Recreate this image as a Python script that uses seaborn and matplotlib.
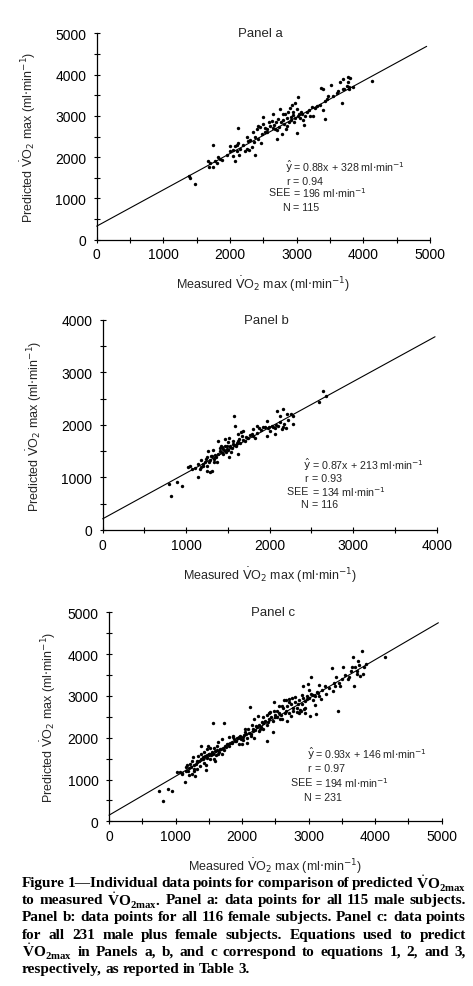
import matplotlib
matplotlib.use("Agg")
import matplotlib.pyplot as plt
import seaborn as sns
import numpy as np
import pandas as pd
from matplotlib.ticker import MultipleLocator

# ---------------- data ----------------
a_measured = [1390, 1400, 1475, 1675, 1685, 1740, 1750, 1800, 1825, 1850, 1875, 2000, 2050, 2075,
              2075, 2110, 2125, 2125, 2140, 2250, 2250, 2275, 2290, 2325, 2350, 2360, 2375, 2400,
              2425, 2450, 2465, 2490, 2500, 2525, 2550, 2600, 2625, 2650, 2675, 2690, 2700, 2725,
              2740, 2750, 2775, 2790, 2810, 2840, 2860, 2875, 2900, 2915, 2930, 2950, 2960, 2975,
              3000, 3010, 3025, 3040, 3065, 3090, 3110, 3150, 3200, 3225, 3250, 3350, 3360, 3390,
              3390, 3425, 3475, 3515, 3550, 3650, 3675, 3700, 3715, 3750, 3765, 3775, 3790, 3800,
              3840, 4135,
              1950, 2000, 2050, 2150, 2200, 2220, 2300, 2380, 2420, 2480, 2520, 2560, 2580, 2640,
              2660, 2700, 2760, 2800, 2820, 2850, 2880, 2920, 2940, 2980, 3020, 3050, 3080, 3120,
              3180, 3280, 3300, 3420, 3450, 3600, 3620, 3700, 3780, 1700, 1780, 2100]
a_predicted = [1540, 1500, 1350, 1900, 1750, 2300, 1750, 1870, 2000, 1950, 1940, 2280, 2035, 1915,
               2280, 2160, 2700, 2340, 2050, 2500, 2200, 2400, 2180, 2240, 2620, 2360, 2060, 2680,
               2760, 2720, 2340, 2965, 2800, 2600, 2680, 2760, 2880, 3045, 2680, 2840, 2440, 2925,
               2720, 3170, 2560, 3045, 2800, 2680, 2760, 3090, 3180, 2965, 3265, 3020, 2860, 3310,
               3170, 2580, 3450, 3045, 3100, 2900, 2780, 3090, 2990, 3210, 2990, 3265, 3670, 3650,
               3150, 2925, 3490, 3750, 3490, 3830, 3310, 3900, 3640, 3730, 3940, 3830, 3640, 3910,
               3690, 3845,
               2050, 2150, 2180, 2200, 2300, 2150, 2420, 2500, 2450, 2550, 2700, 2620, 2850, 2700,
               2780, 2650, 2850, 2900, 3050, 2950, 2850, 2900, 3100, 2950, 3000, 2950, 3050, 3000,
               3150, 3200, 3250, 3350, 3400, 3550, 3600, 3650, 3700, 1850, 1900, 2300]

b_measured = [818, 886, 946, 790, 1018, 1046, 1066, 1146, 1166, 1178, 1206, 1226, 1246, 1254, 1266,
              1278, 1286, 1306, 1314, 1326, 1334, 1358, 1366, 1386, 1406, 1418, 1438, 1446, 1466,
              1478, 1486, 1498, 1510, 1518, 1526, 1538, 1558, 1578, 1586, 1594, 1606, 1618, 1626,
              1638, 1654, 1666, 1686, 1745, 1785, 1805, 1825, 1845, 1877, 1924, 1964, 1964, 1984,
              2004, 2024, 2064, 2068, 2092, 2104, 2124, 2144, 2164, 2172, 2196, 2204, 2276, 2284,
              2595, 2643, 2675,
              1100, 1140, 1200, 1240, 1280, 1300, 1340, 1380, 1400, 1420, 1450, 1470, 1490, 1500,
              1530, 1550, 1570, 1600, 1620, 1650, 1680, 1700, 1720, 1760, 1800, 1850, 1900, 1940,
              1990, 2040, 2080, 2120, 2160, 2220, 2260, 1560, 1430, 1330, 1250, 1180]
b_predicted = [653, 919, 843, 880, 1204, 1223, 1160, 1014, 1160, 1331, 1223, 1300, 1128, 1382, 1509,
               1287, 1110, 1414, 1128, 1528, 1287, 1382, 1287, 1699, 1509, 1604, 1445, 1540, 1731,
               1477, 1604, 1667, 1382, 1744, 1572, 1477, 1635, 2174, 1984, 1604, 1655, 1445, 1826,
               1731, 1870, 1781, 1889, 1743, 1826, 1921, 1743, 1971, 1933, 1965, 2079, 1794, 1933,
               1889, 1984, 1933, 1820, 2269, 1984, 2162, 1921, 2301, 2016, 1940, 2206, 2174, 2016,
               2440, 2650, 2555,
               1180, 1250, 1250, 1350, 1330, 1400, 1420, 1450, 1560, 1480, 1520, 1600, 1550, 1520,
               1600, 1560, 1620, 1620, 1700, 1650, 1720, 1700, 1760, 1800, 1780, 1850, 1900, 1950,
               1960, 1950, 2000, 2050, 1950, 2100, 2200, 1700, 1580, 1350, 1220, 1200]

c_measured = [757, 807, 882, 942, 1017, 1067, 1142, 1167, 1192, 1217, 1242, 1257, 1283, 1293, 1318,
              1343, 1368, 1383, 1408, 1428, 1458, 1468, 1493, 1508, 1518, 1543, 1558, 1578, 1593,
              1618, 1643, 1668, 1693, 1728, 1768, 1808, 1843, 1868, 1908, 1944, 1969, 2004, 2019,
              2044, 2069, 2094, 2119, 2129, 2159, 2179, 2209, 2244, 2269, 2294, 2319, 2369, 2394,
              2420, 2460, 2480, 2495, 2520, 2570, 2595, 2630, 2660, 2680, 2710, 2730, 2760, 2795,
              2820, 2846, 2871, 2896, 2911, 2931, 2946, 2971, 2996, 3021, 3031, 3071, 3096, 3111,
              3146, 3181, 3246, 3347, 3372, 3397, 3437, 3472, 3522, 3597, 3657, 3672, 3682, 3722,
              3747, 3772, 3797, 3812, 3862, 4148,
              1100, 1150, 1200, 1230, 1270, 1300, 1330, 1350, 1390, 1410, 1440, 1470, 1480, 1500,
              1530, 1550, 1570, 1600, 1620, 1650, 1680, 1710, 1740, 1760, 1790, 1820, 1850, 1880,
              1900, 1930, 1960, 1990, 2030, 2060, 2080, 2110, 2140, 2170, 2200, 2230, 2260, 2290,
              2320, 2350, 2380, 2410, 2440, 2470, 2500, 2530, 2560, 2590, 2620, 2650, 2680, 2700,
              2740, 2770, 2800, 2830, 2860, 2890, 2920, 2950, 2980, 3010, 3040, 3060, 3090, 3120,
              3160, 3200, 3260, 3300, 3380, 3410, 3450, 3500, 3550, 3600, 3640, 3700, 3730, 3760,
              3830, 1250, 1380, 1520, 1640, 1580, 1460, 1320, 1200, 2020, 2150, 2400, 2550, 2700,
              2850, 3000, 1700, 1860, 2250, 2600, 2750, 3150, 2900, 2480, 2320, 2050, 1950, 1730,
              1610, 1430, 1280, 1160, 1090, 2950, 2660, 2370, 2180, 1800]
c_predicted = [734, 494, 773, 734, 1172, 1172, 949, 1348, 1212, 1372, 1132, 1531, 1252, 1093, 1451,
               1571, 1332, 1810, 1531, 1651, 1228, 1730, 1810, 1611, 1491, 1651, 2344, 1746, 1451,
               1810, 1611, 1730, 1970, 2352, 1850, 2009, 1874, 2049, 1930, 1986, 2049, 1850, 2009,
               2129, 1874, 2209, 2727, 2049, 2169, 2448, 2289, 2528, 2209, 2368, 2488, 1930, 2368,
               2608, 2145, 2863, 2488, 2647, 2448, 2767, 2911, 2647, 2408, 2927, 2528, 2703, 2966,
               2608, 2807, 2671, 3022, 3245, 2687, 2887, 2927, 3285, 2528, 3461, 3022, 2783, 2568,
               3070, 2927, 3245, 3660, 3126, 3245, 2647, 3245, 3684, 3405, 3684, 3923, 3245, 3525,
               3843, 3469, 4083, 3525, 3764, 3923,
               1160, 1200, 1280, 1300, 1350, 1380, 1420, 1450, 1500, 1480, 1560, 1580, 1520, 1600,
               1580, 1640, 1620, 1680, 1700, 1660, 1720, 1760, 1800, 1780, 1850, 1880, 1900, 1960,
               1920, 2000, 2020, 1980, 2060, 2100, 2000, 2120, 2100, 2200, 2180, 2250, 2300, 2260,
               2350, 2400, 2300, 2450, 2500, 2400, 2550, 2500, 2600, 2550, 2700, 2580, 2750, 2600,
               2800, 2650, 2850, 2700, 2900, 2650, 2950, 2700, 3000, 2950, 3050, 2900, 3000, 3100,
               3000, 3150, 3050, 3200, 3300, 3450, 3300, 3400, 3500, 3450, 3600, 3700, 3600, 3750,
               3700, 1450, 1600, 1750, 1900, 1500, 1350, 1250, 1100, 1950, 2300, 2600, 2750, 2850,
               2600, 3150, 1600, 2020, 2150, 2450, 2950, 3250, 2800, 2650, 2200, 2200, 1850, 1700,
               1580, 1400, 1200, 1300, 1140, 2600, 2900, 2550, 2000, 1800]

# regression equations shown in each panel
slopes = [0.88, 0.87, 0.93]
intercepts = [328, 213, 146]
line_x = [[0, 4950], [0, 3980], [0, 4950]]
stats_r = ["0.94", "0.93", "0.97"]
stats_see = ["196", "134", "194"]
stats_n = ["115", "116", "231"]
panel_names = ["Panel a", "Panel b", "Panel c"]
axis_max = [5000, 4000, 5000]

# ---------------- style ----------------
sns.set_theme(style="ticks")
plt.rcParams["font.family"] = ["Liberation Sans", "DejaVu Sans"]
plt.rcParams["mathtext.fontset"] = "dejavusans"
plt.rcParams["mathtext.rm"] = "Liberation Serif"
plt.rcParams["mathtext.bf"] = "Liberation Serif:bold"

W, H = 473, 987
fig = plt.figure(figsize=(W / 100, H / 100), dpi=100)

# axes boxes in pixels: (left, right, top, bottom)
boxes = [(96.7, 430.0, 34.3, 240.7), (102.7, 436.7, 320.7, 531.0), (109.0, 441.7, 613.3, 822.3)]
ylabel_pads = [12, 12, 7]
# annotation positions in data units: (x of '=', y of each line)
ann_x = [2950, 2503, 3096]
ann_y = [[1794, 1430, 1147, 800], [1255, 983, 735, 500], [1627, 1268, 949, 590]]
title_x = [2450, 1960, 2460]

datasets = [(a_measured, a_predicted), (b_measured, b_predicted), (c_measured, c_predicted)]

for i in range(3):
    l, r, t, b = boxes[i]
    ax = fig.add_axes([l / W, 1 - b / H, (r - l) / W, (b - t) / H])
    df = pd.DataFrame({"measured": datasets[i][0], "predicted": datasets[i][1]})
    sns.scatterplot(data=df, x="measured", y="predicted", ax=ax, color="black", s=6,
                    linewidth=0, clip_on=False, zorder=3)
    lx = np.array(line_x[i], dtype=float)
    ldf = pd.DataFrame({"x": lx, "y": slopes[i] * lx + intercepts[i]})
    sns.lineplot(data=ldf, x="x", y="y", ax=ax, color="black", linewidth=0.8, clip_on=False)
    m = axis_max[i]
    ax.set_xlim(0, m)
    ax.set_ylim(0, m)
    sns.despine(ax=ax)
    for s in ("left", "bottom"):
        ax.spines[s].set_linewidth(0.9)
        ax.spines[s].set_color("black")
    ax.xaxis.set_major_locator(MultipleLocator(1000))
    ax.yaxis.set_major_locator(MultipleLocator(1000))
    ax.xaxis.set_minor_locator(MultipleLocator(500))
    ax.yaxis.set_minor_locator(MultipleLocator(500))
    ax.tick_params(which="major", direction="inout", length=5, width=0.8, color="black",
                   labelsize=10, labelcolor="black", pad=3)
    ax.tick_params(which="minor", direction="inout", length=4, width=0.8, color="black")
    ax.tick_params(axis="y", which="major", pad=5)
    ax.set_xlabel(r"Measured $\dot{\mathrm{V}}$O$_2$ max (ml$\cdot$min$^{-1}$)", fontsize=9,
                  labelpad=9)
    ax.set_ylabel(r"Predicted $\dot{\mathrm{V}}$O$_2$ max (ml$\cdot$min$^{-1}$)", fontsize=9,
                  labelpad=ylabel_pads[i])
    ax.text(title_x[i], m, panel_names[i], ha="center", va="center", fontsize=9.5)
    xs = ann_x[i]
    ys = ann_y[i]
    lefts = [r"$\hat{\mathrm{y}}$ ", "r ", "SEE ", "N "]
    rights = [f"= {slopes[i]:.2f}x + {intercepts[i]} ml$\\cdot$min$^{{-1}}$",
              f"= {stats_r[i]}",
              f"= {stats_see[i]} ml$\\cdot$min$^{{-1}}$",
              f"= {stats_n[i]}"]
    for k in range(4):
        ax.text(xs, ys[k], lefts[k], ha="right", va="center", fontsize=7.7)
        ax.text(xs, ys[k], rights[k], ha="left", va="center", fontsize=7.7)

# ---------------- caption (justified) ----------------
VO = r"$\dot{\mathbf{V}}\mathbf{O}_{\mathbf{2max}}$"
caption_lines = [
    "Figure 1\u2014Individual data points for comparison of predicted " + VO,
    "to measured " + VO + ". Panel a: data points for all 115 male subjects.",
    "Panel b: data points for all 116 female subjects. Panel c: data points",
    "for all 231 male plus female subjects. Equations used to predict",
    VO + " in Panels a, b, and c correspond to equations 1, 2, and 3,",
    "respectively, as reported in Table 3.",
]
cap_left, cap_right = 22.0, 466.0
cap_y0, cap_dy = 883.5, 17.2
renderer = fig.canvas.get_renderer()
for li, line in enumerate(caption_lines):
    words = line.split(" ")
    texts = []
    for w in words:
        t = fig.text(0, 1 - (cap_y0 + li * cap_dy) / H, w, fontsize=11, fontweight="bold",
                     family=["Liberation Serif"], math_fontfamily="custom",
                     ha="left", va="center", color="black")
        texts.append(t)
    widths = [t.get_window_extent(renderer=renderer).width for t in texts]
    total = sum(widths)
    if li < len(caption_lines) - 1 and len(words) > 1:
        gap = max((cap_right - cap_left - total) / (len(words) - 1), 1.5)
    else:
        gap = 3.5
    x = cap_left
    for t, wd in zip(texts, widths):
        t.set_x(x / W)
        x += wd + gap

fig.savefig("out.png", dpi=100)
